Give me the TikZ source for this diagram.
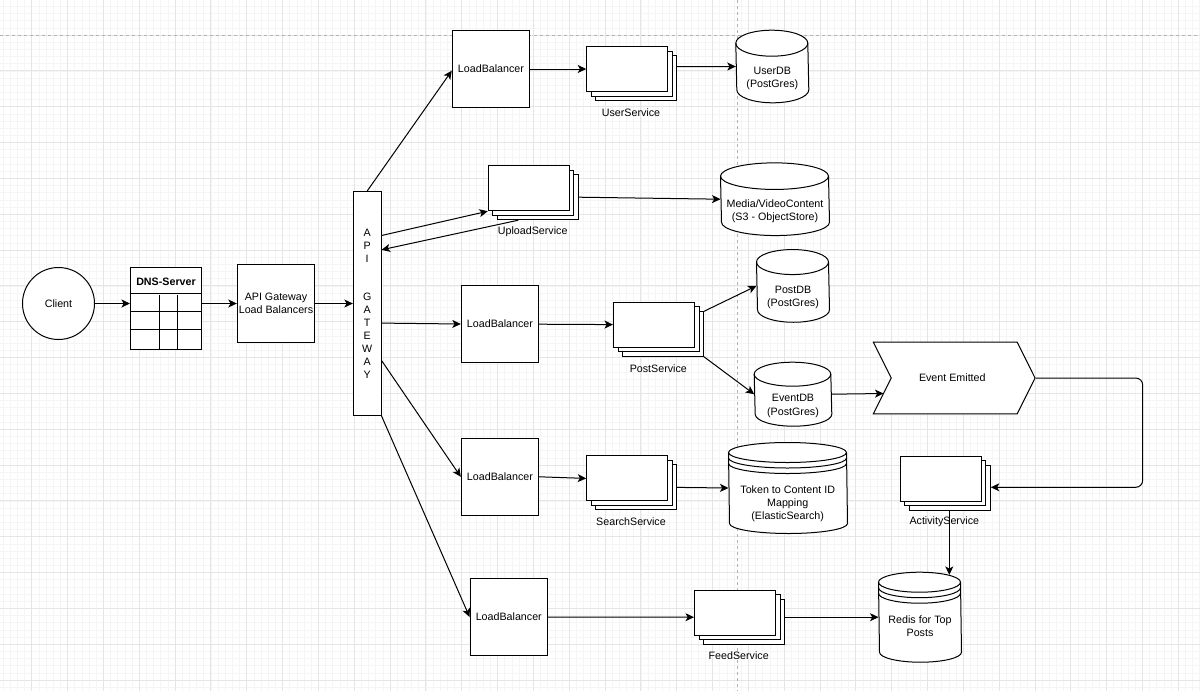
\documentclass[tikz,border=0pt]{standalone}
\usepackage{fontspec}
\setmainfont{Liberation Sans}
\usetikzlibrary{shapes.symbols, shadows, arrows.meta}
\tikzstyle{grid major} = [-,line width=0.8pt,color=black!10]
\tikzstyle{grid minor} = [-,line width=0.6pt,color=black!4]
\tikzstyle{page break} = [-,line width=0.7pt,color=black!30,dash pattern=on 3pt off 3pt]
% body of a store: name, x radius, y radius
\newcommand{\dbbody}[3]{%
  \draw[-,fill=white] ([yshift=-#3]#1.north west) arc[start angle=180,end angle=0,x radius=#2,y radius=#3]
    -- ([yshift=#3]#1.south east) arc[start angle=0,end angle=-180,x radius=#2,y radius=#3] -- cycle;
  \draw[-] ([yshift=-#3]#1.north west) arc[start angle=180,end angle=360,x radius=#2,y radius=#3];}
\newcommand{\dbstripes}[3]{%
  \draw[-] ([yshift=-#3-5.5pt]#1.north west) arc[start angle=180,end angle=360,x radius=#2,y radius=#3];
  \draw[-] ([yshift=-#3-11pt]#1.north west) arc[start angle=180,end angle=360,x radius=#2,y radius=#3];}
\begin{document}
\begin{tikzpicture}[x=1pt,y=-1pt,->,>={Stealth[length=8.5pt,width=8pt,inset=2.2pt]},line width=1pt,
    every node/.style={font=\fontsize{10.7}{13.2}\selectfont,align=center,inner sep=0pt},
    box node/.style={rectangle,draw,fill=white,minimum width=77.4pt,minimum height=77.4pt},
    stack node/.style={rectangle,draw,fill=white,minimum width=81pt,minimum height=45pt,
      double copy shadow={shadow xshift=4.5pt,shadow yshift=-4.5pt,draw=black,fill=white}},
    db node/.style={rectangle,minimum width=#1}]
  \useasboundingbox (0,0) rectangle (1200,691);
  % background grid
  \foreach \k in {-4,...,167} \draw[grid minor] ({31.7+7.166*\k},0) -- ({31.7+7.166*\k},691);
  \foreach \k in {0,...,97} \draw[grid minor] (0,{-0.8+7.166*\k}) -- (1200,{-0.8+7.166*\k});
  \foreach \k in {0,...,32} \draw[grid major] ({31.7+35.83*\k},0) -- ({31.7+35.83*\k},691);
  \foreach \k in {1,...,19} \draw[grid major] (0,{-0.8+35.83*\k}) -- (1200,{-0.8+35.83*\k});
  \draw[page break] (0,35) -- (1200,35);
  \draw[page break] (737,0) -- (737,691);
  % entry
  \node[circle,draw,fill=white,minimum size=72pt] (client) at (58.5,303.5) {Client};
  \node[rectangle,draw,fill=white,minimum width=71.5pt,minimum height=81.6pt] (dns) at (166.2,308.5) {};
  \node[font=\fontsize{10.7}{13.2}\selectfont\bfseries] (dnstitle) at (166,281.5) {DNS-Server};
  \foreach \dy in {26.6,44.6,62.6}
    \draw[-] ([yshift=-\dy pt]dns.north west) -- ([yshift=-\dy pt]dns.north east);
  \foreach \dx in {29.8,47.8}
    \draw[-] ([xshift=\dx pt]dns.south west) -- ([xshift=\dx pt,yshift=55pt]dns.south west);
  \node[box node] (apilb) at (276,303.5) {API Gateway\\Load Balancers};
  \node[rectangle,draw,fill=white,minimum width=27.7pt,minimum height=224pt,
    font=\fontsize{10.7}{12.9}\selectfont] (api) at (367.2,303.5)
    {A\\P\\I\\[12.9pt]\\G\\A\\T\\E\\W\\A\\Y};
  % services
  \node[box node] (lbuser) at (491,69) {LoadBalancer};
  \node[box node] (lbpost) at (500,324) {LoadBalancer};
  \node[box node] (lbsearch) at (500,476.8) {LoadBalancer};
  \node[box node] (lbfeed) at (508.8,617) {LoadBalancer};
  \node[stack node] (user) at (627.2,69) {};
  \node[stack node] (upload) at (528.8,188.2) {};
  \node[stack node] (post) at (654,324.8) {};
  \node[stack node] (search) at (627.2,478.4) {};
  \node[stack node] (feed) at (735,612.7) {};
  \node[stack node] (activity) at (940.8,478.5) {};
  \node (userlabel) at (631,112.3) {UserService};
  \node (uploadlabel) at (532.7,231.3) {UploadService};
  \node (postlabel) at (658.3,368.3) {PostService};
  \node (searchlabel) at (631,521.7) {SearchService};
  \node (feedlabel) at (738.7,656) {FeedService};
  \node (activitylabel) at (944.3,521.7) {ActivityService};
  % stores
  \node[db node=72pt,minimum height=71.6pt] (userdb) at (772.3,66.5) {};
  \node[db node=108pt,minimum height=71.7pt] (media) at (775,199.2) {};
  \node[db node=72pt,minimum height=71.7pt] (postdb) at (793,285.9) {};
  \node[db node=76.6pt,minimum height=63pt] (eventdb) at (793,394.2) {};
  \node[db node=118pt,minimum height=90pt] (token) at (788,488) {};
  \node[db node=82pt,minimum height=89pt] (redis) at (920,617.2) {};
  \dbbody{userdb}{36pt}{13pt}
  \dbbody{media}{54pt}{13.3pt}
  \dbbody{postdb}{36pt}{12.5pt}
  \dbbody{eventdb}{38.3pt}{12pt}
  \dbbody{token}{59pt}{10pt}
  \dbbody{redis}{41pt}{10pt}
  \dbstripes{token}{59pt}{10pt}
  \dbstripes{redis}{41pt}{10pt}
  \node (userdbtext) at (772.3,78.6) {UserDB\\(PostGres)};
  \node (mediatext) at (775,210.9) {Media/VideoContent\\(S3 - ObjectStore)};
  \node (postdbtext) at (793,297.6) {PostDB\\(PostGres)};
  \node (eventdbtext) at (793,406) {EventDB\\(PostGres)};
  \node (tokentext) at (787.7,503.6) {Token to Content ID\\Mapping\\(ElasticSearch)};
  \node (redistext) at (920,626) {Redis for Top\\Posts};
  \node[signal,signal from=west,signal to=east,signal pointer angle=127,draw,fill=white,
    minimum width=161.7pt,minimum height=71.7pt] (event) at (954.2,378) {};
  \node (eventtext) at (952.3,377.5) {Event Emitted};
  \coordinate (eventin) at (883.5,393.5);
  % connectors
  \path (client.east) edge ([yshift=5pt]dns.west)
    ([yshift=5pt]dns.east) edge (apilb.west)
    (apilb) edge (api)
    (api.north) edge ([yshift=-1.7pt]lbuser.west)
    ([yshift=68pt]api.east) edge (upload.south west)
    ([shift={(-10.5pt,-9pt)}]upload.south) edge ([yshift=53.7pt]api.east)
    ([yshift=-19.6pt]api.east) edge (lbpost.west)
    ([yshift=-57pt]api.east) edge (lbsearch.west)
    (api.south east) edge (lbfeed.west)
    (lbuser) edge (user)
    (lbpost) edge (post)
    (lbsearch.east) edge (search.west)
    (lbfeed.east) edge ([yshift=-4.5pt]feed.west)
    ([shift={(9pt,2.3pt)}]user.east) edge (userdb.west)
    ([shift={(9pt,-9pt)}]upload.east) edge (media.west)
    ([shift={(9pt,13.5pt)}]post.east) edge (postdb.west)
    ([shift={(9pt,-9pt)}]post.south east) edge (eventdb.west)
    (eventdb.east) edge (eventin)
    ([shift={(9pt,-9pt)}]search.east) edge (token.west)
    ([shift={(9pt,-4.5pt)}]feed.east) edge (redis.west)
    ([shift={(8.5pt,-9pt)}]activity.south) edge ([shift={(29.3pt,-2.7pt)}]redis.north);
  \draw[rounded corners=7pt] (event.east) -- (1142.7,378) -- (1142.7,487.3) -- ([shift={(9pt,-8.8pt)}]activity.east);
\end{tikzpicture}
\end{document}
